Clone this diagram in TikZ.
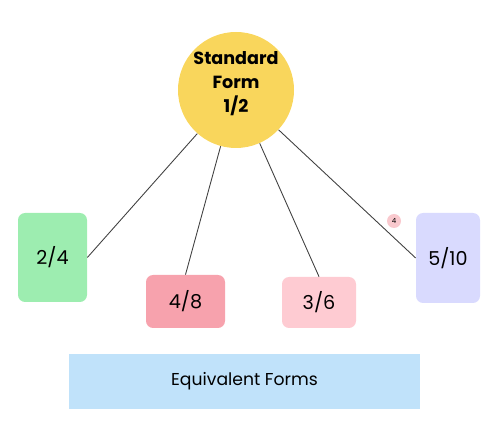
\documentclass[tikz,border=0pt]{standalone}
\usepackage{fontspec}
\setmainfont{Poppins}
\usepackage{tikz}
\usetikzlibrary{shapes}
\usetikzlibrary{positioning}
\usepackage{xcolor}
\definecolor{standard}{HTML}{F9D65C}
\definecolor{greenbox}{HTML}{9DEDB0}
\definecolor{redbox}{HTML}{F7A2AD}
\definecolor{pinkbox}{HTML}{FECBD2}
\definecolor{lilacbox}{HTML}{D9DAFE}
\definecolor{badge}{HTML}{F9C9CE}
\definecolor{formsbar}{HTML}{C0E2FA}

\begin{document}
\begin{tikzpicture}
      \tikzstyle{fraction}=[rectangle, rounded corners=4pt, font=\fontsize{10.9}{13}\selectfont, inner sep=0pt]
      \tikzstyle{link}=[draw=black!75, line width=0.5pt]

      \useasboundingbox (0cm, 0cm) rectangle (10.04cm, 8.6cm);

      \node[circle, fill=standard, minimum size=2.32cm] (std) at (4.72cm, 6.8cm) {};
      \node[align=center, font=\fontsize{10}{13.7}\selectfont\bfseries] (stdtext) at ([yshift=0.13cm]std.center) {Standard\\Form\\1/2};

      % equivalent fractions
      \node[fraction, fill=greenbox, minimum width=1.38cm, minimum height=1.78cm] (twofour) at (1.05cm, 3.45cm) {2/4};
      \node[fraction, fill=redbox, minimum width=1.58cm, minimum height=1.06cm] (foureight) at (3.71cm, 2.57cm) {4/8};
      \node[fraction, fill=pinkbox, minimum width=1.48cm, minimum height=1.02cm] (threesix) at (6.38cm, 2.55cm) {3/6};
      \node[fraction, fill=lilacbox, minimum width=1.28cm, minimum height=1.8cm] (fiveten) at (8.96cm, 3.44cm) {5/10};

      \node[circle, fill=badge, minimum size=0.28cm, inner sep=0pt, font=\fontsize{4}{4}\selectfont] (count) at (7.88cm, 4.18cm) {4};

      \node[rectangle, fill=formsbar, minimum width=7.02cm, minimum height=1.1cm, font=\fontsize{9.8}{12}\selectfont] (forms) at (4.89cm, 0.97cm) {Equivalent Forms};

      \draw[link] (std) -- (twofour.east);
      \draw[link] (std) -- (foureight.north);
      \draw[link] (std) -- (threesix.north);
      \draw[link] (std) -- (fiveten.west);
\end{tikzpicture}
\end{document}
